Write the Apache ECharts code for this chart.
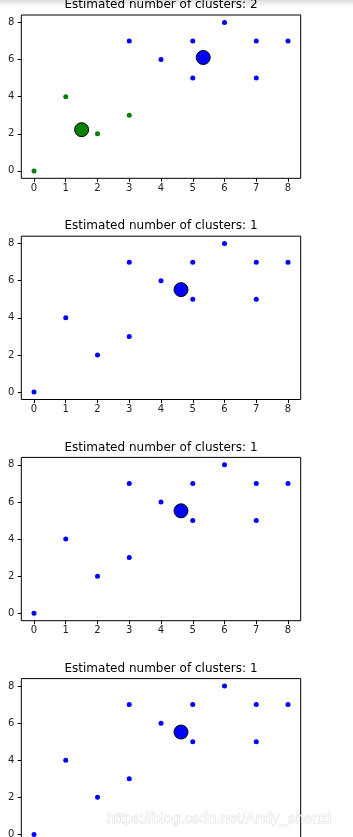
<!DOCTYPE html>
<html>
<head>
<meta charset="utf-8">
<script src="https://cdn.jsdelivr.net/npm/echarts@6/dist/echarts.min.js"></script>
<style>html,body{margin:0;padding:0;background:#fff}#c{width:353px;height:837px}</style>
</head>
<body>
<div id="c"></div>
<script>
// Data
const pointsX = [0, 1, 2, 3, 3, 4, 5, 5, 6, 7, 7, 8];
const pointsY = [0, 4, 2, 3, 7, 6, 7, 5, 8, 7, 5, 7];
// cluster label of each point, per subplot
const labels1 = [1, 1, 1, 1, 0, 0, 0, 0, 0, 0, 0, 0];
const labels2 = [0, 0, 0, 0, 0, 0, 0, 0, 0, 0, 0, 0];
const labels3 = [0, 0, 0, 0, 0, 0, 0, 0, 0, 0, 0, 0];
const labels4 = [0, 0, 0, 0, 0, 0, 0, 0, 0, 0, 0, 0];
// cluster centers per subplot: [x, y]
const centers1 = [[5.33, 6.11], [1.5, 2.22]];
const centers2 = [[4.63, 5.52]];
const centers3 = [[4.63, 5.52]];
const centers4 = [[4.63, 5.52]];
const titles = ["Estimated number of clusters: 2", "Estimated number of clusters: 1",
                "Estimated number of clusters: 1", "Estimated number of clusters: 1"];
const xTicks = [0, 1, 2, 3, 4, 5, 6, 7, 8];
const yTicks = [0, 2, 4, 6, 8];
const clusterColors = ['#0000ff', '#008000'];

const allLabels = [labels1, labels2, labels3, labels4];
const allCenters = [centers1, centers2, centers3, centers4];

const FONT = 'DejaVu Sans';
const gridLeft = 21.3, gridWidth = 279.4, gridHeight = 163.3;
const gridTops = [15, 236.2, 457.4, 678.6];

const chart = echarts.init(document.getElementById('c'), null, {renderer: 'canvas'});

const grids = [], xAxes = [], yAxes = [], series = [], graphics = [];
gridTops.forEach((top, i) => {
  grids.push({left: gridLeft, top: top, width: gridWidth, height: gridHeight,
    show: true, borderColor: '#000', borderWidth: 1, backgroundColor: '#fff',
    containLabel: false, outerBoundsMode: 'none'});
  xAxes.push({type: 'value', gridIndex: i, min: -0.4, max: 8.4,
    axisLine: {show: false, onZero: false}, splitLine: {show: false},
    axisTick: {show: true, customValues: xTicks, length: 3.5, lineStyle: {color: '#000'}},
    axisLabel: {customValues: xTicks, margin: 5, color: '#222', fontFamily: FONT, fontSize: 10}});
  yAxes.push({type: 'value', gridIndex: i, min: -0.4, max: 8.4,
    axisLine: {show: false, onZero: false}, splitLine: {show: false},
    axisTick: {show: true, customValues: yTicks, length: 3.5, lineStyle: {color: '#000'}},
    axisLabel: {customValues: yTicks, margin: 7, color: '#222', fontFamily: FONT, fontSize: 10}});
  const labs = allLabels[i];
  const nClusters = allCenters[i].length;
  for (let k = 0; k < nClusters; k++) {
    const pts = [];
    for (let j = 0; j < pointsX.length; j++) if (labs[j] === k) pts.push([pointsX[j], pointsY[j]]);
    series.push({type: 'scatter', xAxisIndex: i, yAxisIndex: i, data: pts, symbolSize: 5,
      itemStyle: {color: clusterColors[k], opacity: 1}, silent: true, z: 2});
  }
  for (let k = 0; k < nClusters; k++) {
    series.push({type: 'scatter', xAxisIndex: i, yAxisIndex: i, data: [allCenters[i][k]], symbolSize: 14,
      itemStyle: {color: clusterColors[k], borderColor: '#000', borderWidth: 1, opacity: 1}, silent: true, z: 3});
  }
  graphics.push({type: 'text', x: gridLeft + gridWidth / 2, y: top - 10,
    style: {text: titles[i], fill: '#000', font: '12px "' + FONT + '"', textAlign: 'center', textVerticalAlign: 'middle'}});
});

// screenshot shadow strip at the top
graphics.push({type: 'rect', shape: {x: 0, y: 0, width: 353, height: 7}, z: 90, silent: true,
  style: {fill: new echarts.graphic.LinearGradient(0, 0, 0, 1, [
    {offset: 0, color: 'rgba(0,0,0,0.13)'}, {offset: 1, color: 'rgba(0,0,0,0)'}])}});

graphics.push({type: 'text', x: 107, y: 819, z: 100,
  style: {text: 'https://blog.csdn.net/Andy_shenzl', fill: 'rgba(250,250,250,0.95)',
    stroke: 'rgba(190,190,190,0.45)', lineWidth: 0.9,
    font: '15px "Liberation Sans"', textAlign: 'left', textVerticalAlign: 'middle'}});

chart.setOption({
  animation: false,
  grid: grids, xAxis: xAxes, yAxis: yAxes, series: series, graphic: graphics
});
</script>
</body>
</html>
